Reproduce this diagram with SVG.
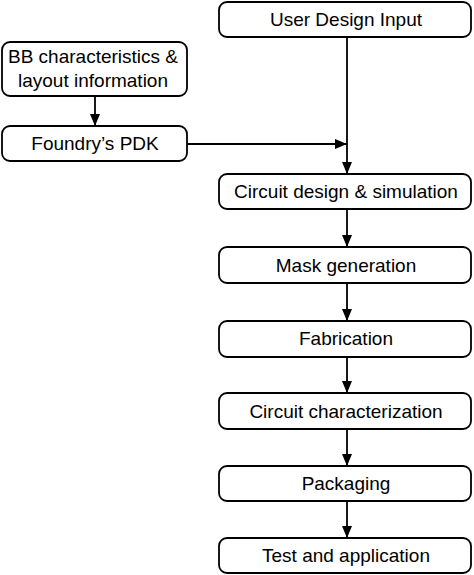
<svg xmlns="http://www.w3.org/2000/svg" width="474" height="575" viewBox="0 0 474 575">
<style>
.box{fill:#fff;stroke:#000;stroke-width:1.8}
.t{font-family:"Liberation Sans",Arial,sans-serif;font-size:19px;fill:#000;text-anchor:middle}
.c{stroke:#000;stroke-width:1.8;fill:none;marker-end:url(#ah)}
</style>
<defs>
<marker id="ah" viewBox="0 0 12 10" refX="12" refY="5" markerWidth="12" markerHeight="10" markerUnits="userSpaceOnUse" orient="auto">
<path d="M0,0 L12,5 L0,10 Z" fill="#000"/>
</marker>
</defs>
<rect width="474" height="575" fill="#fff"/>
<g id="connectors">
<line class="c" x1="347" y1="37" x2="347" y2="174"/>
<line class="c" x1="187" y1="144" x2="347" y2="144"/>
<line class="c" x1="95" y1="96" x2="95" y2="126"/>
<line class="c" x1="347" y1="209" x2="347" y2="247"/>
<line class="c" x1="347" y1="283" x2="347" y2="321"/>
<line class="c" x1="347" y1="357" x2="347" y2="393"/>
<line class="c" x1="347" y1="429" x2="347" y2="466"/>
<line class="c" x1="347" y1="501" x2="347" y2="538"/>
</g>
<g id="user-design-input">
<rect class="box" x="219" y="2" width="252" height="35" rx="8"/>
<text class="t" x="346" y="26">User Design Input</text>
</g>
<g id="bb-characteristics">
<rect class="box" x="2" y="42" width="185" height="54" rx="8"/>
<text class="t" x="93" y="63">BB characteristics &amp;</text>
<text class="t" x="93" y="87">layout information</text>
</g>
<g id="foundry-pdk">
<rect class="box" x="2" y="126" width="185" height="35" rx="8"/>
<text class="t" x="95" y="150">Foundry’s PDK</text>
</g>
<g id="circuit-design">
<rect class="box" x="219" y="174" width="252" height="35" rx="8"/>
<text class="t" x="346" y="198">Circuit design &amp; simulation</text>
</g>
<g id="mask-generation">
<rect class="box" x="219" y="247" width="252" height="36" rx="8"/>
<text class="t" x="346" y="272">Mask generation</text>
</g>
<g id="fabrication">
<rect class="box" x="219" y="321" width="252" height="36" rx="8"/>
<text class="t" x="346" y="345">Fabrication</text>
</g>
<g id="circuit-characterization">
<rect class="box" x="219" y="393" width="252" height="36" rx="8"/>
<text class="t" x="346" y="418">Circuit characterization</text>
</g>
<g id="packaging">
<rect class="box" x="219" y="466" width="252" height="35" rx="8"/>
<text class="t" x="346" y="490">Packaging</text>
</g>
<g id="test-application">
<rect class="box" x="219" y="538" width="252" height="35" rx="8"/>
<text class="t" x="346" y="562">Test and application</text>
</g>
</svg>
